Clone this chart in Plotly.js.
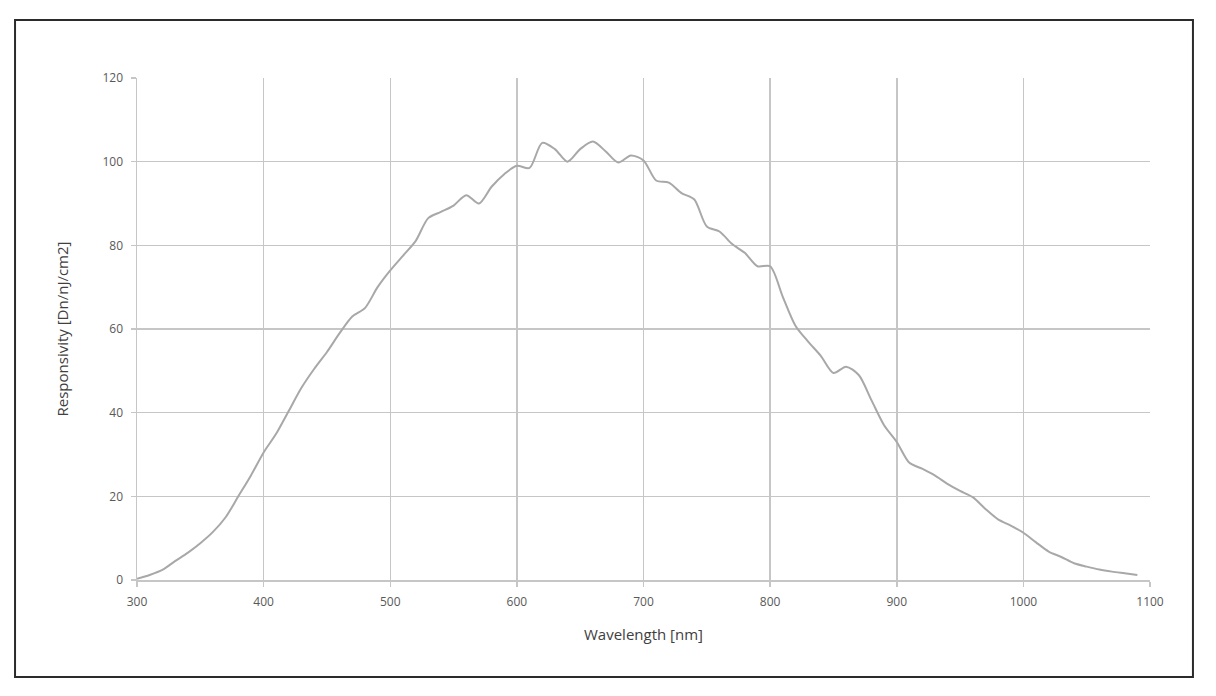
<!DOCTYPE html>
<html>
<head>
<meta charset="utf-8">
<script src="https://cdn.plot.ly/plotly-3.0.1.min.js"></script>
<style>html,body{margin:0;padding:0;background:#fff;}#chart{width:1216px;height:696px;}</style>
</head>
<body>
<div id="chart"></div>
<script>
const wavelength = [300,310,320,330,340,350,360,370,380,390,400,410,420,430,440,450,460,470,480,490,500,510,520,530,540,550,560,570,580,590,600,610,620,630,640,650,660,670,680,690,700,710,720,730,740,750,760,770,780,790,800,810,820,830,840,850,860,870,880,890,900,910,920,930,940,950,960,970,980,990,1000,1010,1020,1030,1040,1050,1060,1070,1080,1090];
const responsivity = [0.3,1.2,2.4,4.5,6.5,8.8,11.5,15,20,25,30.5,35,40.5,46,50.5,54.5,59,63,65,70,74,77.5,81,86.5,88,89.5,92,90,94,97,99,98.5,104.5,103,100,103,104.8,102.5,99.8,101.5,100.3,95.5,95,92.5,91,84.5,83.3,80.3,78.2,75,75,67.7,60.8,57,53.6,49.5,51,49,43,37,33,28,26.6,25,23,21.3,19.8,17,14.5,13,11.3,9,6.8,5.5,4,3.2,2.5,2,1.6,1.2];
const xTicks = [300,400,500,600,700,800,900,1000,1100];
const yTicks = [0,20,40,60,80,100,120];
const xTitle = 'Wavelength [nm]';
const yTitle = 'Responsivity [Dn/nJ/cm2]';

const gridColor = '#c6c6c6';
const fontFam = 'Open Sans, Liberation Sans, sans-serif';

Plotly.newPlot('chart', [{
  x: wavelength, y: responsivity, type: 'scatter', mode: 'lines',
  line: {color: '#a8a8a8', width: 2, shape: 'spline', smoothing: 0.8},
  hoverinfo: 'x+y'
}], {
  width: 1216, height: 696,
  margin: {l: 137, r: 66, t: 78, b: 116},
  paper_bgcolor: '#ffffff', plot_bgcolor: '#ffffff',
  showlegend: false,
  font: {family: fontFam, size: 12, color: '#595959'},
  xaxis: {
    range: [300, 1100], tickvals: xTicks, ticktext: xTicks.map(String),
    showgrid: true, gridcolor: gridColor, gridwidth: 1.5,
    showline: true, linecolor: gridColor, linewidth: 1.5, mirror: false,
    ticks: 'outside', ticklen: 5, tickcolor: gridColor, tickwidth: 1.5,
    ticklabelstandoff: 5,
    zeroline: false, tickfont: {size: 12, color: '#595959'},
    title: {text: xTitle, font: {size: 15, color: '#404040'}, standoff: 20}
  },
  yaxis: {
    range: [0, 120], tickvals: yTicks, ticktext: yTicks.map(String),
    showgrid: true, gridcolor: gridColor, gridwidth: 1.5,
    showline: true, linecolor: gridColor, linewidth: 1.5,
    ticks: 'outside', ticklen: 5, tickcolor: gridColor, tickwidth: 1.5,
    ticklabelstandoff: 5,
    zeroline: false, tickfont: {size: 12, color: '#595959'},
    title: {text: yTitle, font: {size: 15, color: '#404040'}, standoff: 30}
  },
  shapes: [{
    type: 'rect', xref: 'paper', yref: 'paper',
    x0: -0.1204, x1: 1.0424, y0: -0.1932, y1: 1.1155,
    line: {color: '#2b2b2b', width: 2}, fillcolor: 'rgba(0,0,0,0)', layer: 'below'
  }]
}, {displayModeBar: false, staticPlot: true});
</script>
</body>
</html>
